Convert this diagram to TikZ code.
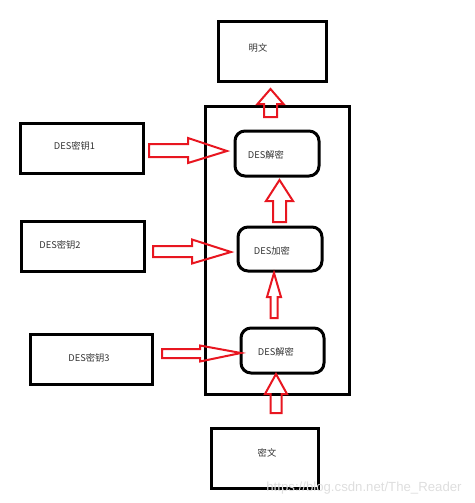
\documentclass[tikz,border=0pt]{standalone}
\usepackage{fontspec}
\newfontfamily\cjk{Noto Sans CJK SC}
\newfontfamily\wmfont{Liberation Sans}
\usetikzlibrary{calc}
\definecolor{arrred}{RGB}{232,22,32}
\tikzset{
  box/.style={draw=black, line width=3pt, rectangle, inner sep=0pt},
  rbox/.style={box, rounded corners=10pt},
  lbl/.style={inner sep=0pt, font=\cjk\fontsize{9.3}{10}\selectfont, text=black!80},
  redarr/.style={draw=arrred, line width=2pt, line join=miter},
}
% up block arrow: tail, tip, shaft half width, head half width, head length
\newcommand\blkuparr[5]{%
  \draw[redarr] let \p1=(#1), \p2=(#2) in
    (\x2,\y2) -- (\x2+#4pt,\y2-#5pt) -- (\x2+#3pt,\y2-#5pt) -- (\x2+#3pt,\y1)
    -- (\x2-#3pt,\y1) -- (\x2-#3pt,\y2-#5pt) -- (\x2-#4pt,\y2-#5pt) -- cycle;}
% right block arrow
\newcommand\blkrtarr[5]{%
  \draw[redarr] let \p1=(#1), \p2=(#2) in
    (\x2,\y2) -- (\x2-#5pt,\y1-#4pt) -- (\x2-#5pt,\y1-#3pt) -- (\x1,\y1-#3pt)
    -- (\x1,\y1+#3pt) -- (\x2-#5pt,\y1+#3pt) -- (\x2-#5pt,\y1+#4pt) -- cycle;}
\begin{document}
\begin{tikzpicture}[x=1pt,y=-1pt]
\useasboundingbox (0,0) rectangle (474,503);
% boxes
\node[box, minimum width=108pt, minimum height=59pt] (plain) at (272,51.5) {};
\node[box, minimum width=144pt, minimum height=288pt] (cont) at (277,250) {};
\node[box, minimum width=123pt, minimum height=50pt] (k1) at (81.5,148) {};
\node[box, minimum width=123pt, minimum height=50pt] (k2) at (82.5,246) {};
\node[box, minimum width=122pt, minimum height=50pt] (k3) at (91,359) {};
\node[box, minimum width=107pt, minimum height=60pt] (cipher) at (264.5,458) {};
\node[rbox, minimum width=84pt, minimum height=45pt] (d1) at (277,153.5) {};
\node[rbox, minimum width=84pt, minimum height=44pt] (enc) at (280,249) {};
\node[rbox, minimum width=83pt, minimum height=45pt] (d2) at (282.5,350.5) {};
% labels
\node[lbl] (plaint) at (258,48) {明文};
\node[lbl] (k1t) at (74.5,146) {DES密钥1};
\node[lbl] (k2t) at (60,245) {DES密钥2};
\node[lbl] (k3t) at (89,358) {DES密钥3};
\node[lbl] (d1t) at (266,155) {DES解密};
\node[lbl] (enct) at (272,251) {DES加密};
\node[lbl] (d2t) at (276,352) {DES解密};
\node[lbl] (ciphert) at (267,453) {密文};
% arrow end points
\coordinate (a0s) at (276,413); \coordinate (a0t) at (276,374);
\coordinate (a1s) at (274,318); \coordinate (a1t) at (274,273);
\coordinate (a2s) at (279.5,222); \coordinate (a2t) at (279.5,180);
\coordinate (a3s) at (270.5,117); \coordinate (a3t) at (270.5,89);
\coordinate (r1s) at (149,150.5); \coordinate (r1t) at (227,151);
\coordinate (r2s) at (153,251.5); \coordinate (r2t) at (231,252);
\coordinate (r3s) at (162,353.5); \coordinate (r3t) at (241,353);
\blkuparr{a0s}{a0t}{5.5}{11}{20}
\blkuparr{a1s}{a1t}{3.5}{7}{24}
\blkuparr{a2s}{a2t}{6.5}{13.5}{21}
\blkuparr{a3s}{a3t}{6.5}{13}{15}
\blkrtarr{r1s}{r1t}{6.5}{12.5}{39}
\blkrtarr{r2s}{r2t}{5.5}{12}{39}
\blkrtarr{r3s}{r3t}{4.5}{8}{41}
% watermark
\node[inner sep=0pt, font=\wmfont\fontsize{13.2}{14}\selectfont, text=black!13] (wm) at (364,488) {https://blog.csdn.net/The\_Reader};
\end{tikzpicture}
\end{document}
